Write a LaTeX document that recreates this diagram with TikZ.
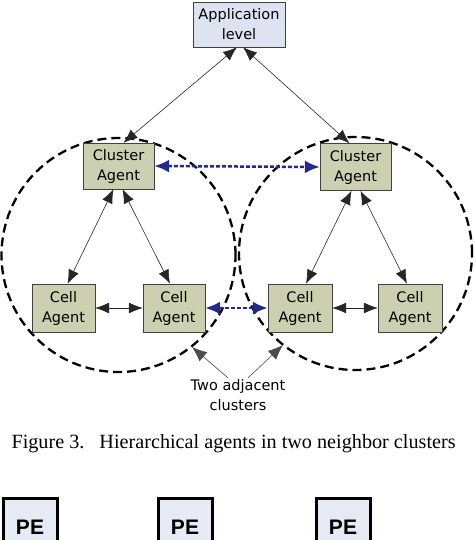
\documentclass[tikz,border=0pt]{standalone}
\usepackage{fontspec}
\setmainfont{DejaVu Sans}
\newfontfamily\capfont{Liberation Serif}
\newfontfamily\pefont{Liberation Sans}
\usetikzlibrary{arrows.meta}

\definecolor{appfill}{HTML}{DDE3F1}
\definecolor{agentfill}{HTML}{CDD0B0}
\definecolor{pefill}{HTML}{E5EAF4}
\definecolor{linkblue}{HTML}{1F2A8C}

\tikzset{
  agentbox/.style={draw=black!75, fill=agentfill, align=center, inner sep=0pt,
    font=\fontsize{14.5}{20}\selectfont},
  appbox/.style={agentbox, fill=appfill},
  pebox/.style={draw=black, line width=3pt, fill=pefill, inner sep=0pt,
    minimum width=54pt, minimum height=58pt, font=\pefont\bfseries\fontsize{21}{22}\selectfont},
  ring/.style={line width=2.3pt, dash pattern=on 9pt off 5pt},
  biarrow/.style={draw=black!85, line width=0.6pt, {Latex[length=14pt,width=11pt]}-{Latex[length=14pt,width=11pt]}},
  bluelink/.style={draw=linkblue, line width=2.5pt, dash pattern=on 4pt off 2pt,
    {Latex[length=15pt,width=13pt]}-{Latex[length=15pt,width=13pt]}},
  pointer/.style={draw=black!70, line width=0.6pt, -{Latex[length=15pt,width=12pt]}}
}

\begin{document}
\begin{tikzpicture}[x=1pt,y=-1pt]
\clip (0,0) rectangle (474,540);
\useasboundingbox (0,0) rectangle (474,540);

%% cluster rings
\draw[ring] (118.5,255) circle (117pt);   %% left cluster
\draw[ring] (355.5,253.5) circle (116.5pt); %% right cluster

%% agents
\node[appbox, minimum width=92pt, minimum height=45pt] (app) at (239,24.5) {Application\\level};
\node[agentbox, minimum width=71pt, minimum height=46pt] (clusterL) at (118.5,166) {Cluster\\Agent};
\node[agentbox, minimum width=71pt, minimum height=47pt] (clusterR) at (355.5,167) {Cluster\\Agent};
\node[agentbox, minimum width=63pt, minimum height=48pt] (cellLa) at (63.5,308) {Cell\\Agent};
\node[agentbox, minimum width=62pt, minimum height=48pt] (cellLb) at (174,308) {Cell\\Agent};
\node[agentbox, minimum width=64pt, minimum height=48pt] (cellRa) at (300,308) {Cell\\Agent};
\node[agentbox, minimum width=64pt, minimum height=48pt] (cellRb) at (410,308) {Cell\\Agent};

%% hierarchy links
\draw[biarrow] ([xshift=-2pt]app.south) -- ([xshift=5pt]clusterL.north);
\draw[biarrow] ([xshift=4pt]app.south) -- ([xshift=-6pt]clusterR.north);
\draw[biarrow] ([xshift=-5pt]clusterL.south) -- ([xshift=4pt]cellLa.north);
\draw[biarrow] ([xshift=4pt]clusterL.south) -- ([xshift=-4pt]cellLb.north);
\draw[biarrow] ([xshift=-4pt]clusterR.south) -- ([xshift=6pt]cellRa.north);
\draw[biarrow] ([xshift=5pt]clusterR.south) -- ([xshift=-3pt]cellRb.north);
\draw[biarrow] (cellLa.east) -- (cellLb.west);
\draw[biarrow] (cellRa.east) -- (cellRb.west);

%% links between neighbor clusters
\draw[bluelink] (clusterL.east) -- (clusterR.west);
\draw[bluelink] (cellLb.east) -- (cellRa.west);

%% note
\node[align=center, font=\fontsize{14.5}{20}\selectfont] (note) at (238,395) {Two adjacent\\clusters};
\coordinate (ringL) at (192,347);
\coordinate (ringR) at (283,345);
\draw[pointer] ([xshift=-10pt,yshift=-2pt]note.north) -- (ringL);
\draw[pointer] ([xshift=10pt,yshift=-2pt]note.north) -- (ringR);

%% caption
\node[font=\capfont\fontsize{20.2}{24}\selectfont, anchor=base west] (caption) at (8,448)
  {Figure 3.\hspace{15pt}Hierarchical agents in two neighbor clusters};

%% processing elements
\node[pebox] (peA) at (30,527) {PE};
\node[pebox] (peB) at (185,527) {PE};
\node[pebox] (peC) at (343,527) {PE};
\end{tikzpicture}
\end{document}
